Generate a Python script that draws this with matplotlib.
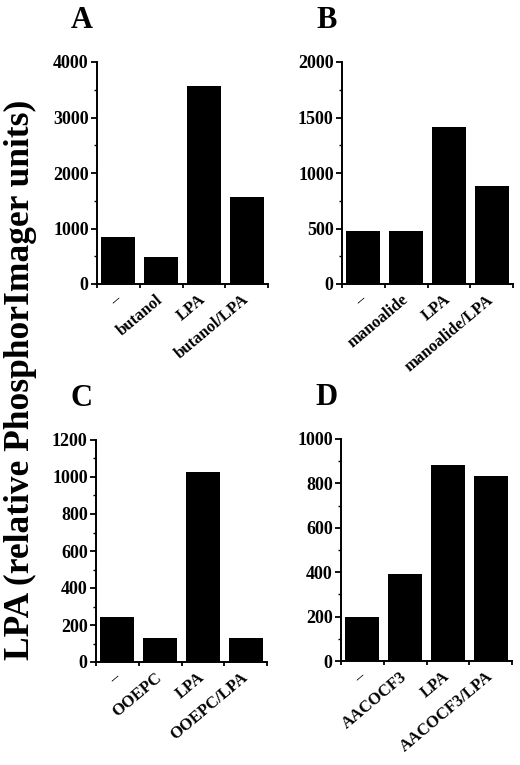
import numpy as np
import matplotlib.pyplot as plt
from matplotlib.ticker import MultipleLocator, FixedLocator

plt.rcParams['font.family'] = ['Liberation Serif', 'DejaVu Serif']
plt.rcParams['font.weight'] = 'bold'

# panel data
labels_a = ['\u2013', 'butanol', 'LPA', 'butanol/LPA']
values_a = [840, 480, 3570, 1560]

labels_b = ['\u2013', 'manoalide', 'LPA', 'manoalide/LPA']
values_b = [475, 475, 1415, 885]

labels_c = ['\u2013', 'OOEPC', 'LPA', 'OOEPC/LPA']
values_c = [245, 130, 1025, 130]

labels_d = ['\u2013', 'AACOCF3', 'LPA', 'AACOCF3/LPA']
values_d = [200, 390, 885, 835]

W, H = 520, 765
fig = plt.figure(figsize=(W / 100, H / 100), dpi=100)


def make_panel(left_px, top_px, letter, labels, values, ymax, major):
    ax = fig.add_axes([left_px / W, (H - top_px - 222) / H, 171 / W, 222 / H])
    x = np.arange(len(values)) + 0.5
    ax.bar(x, values, width=0.8, color='black')
    ax.set_xlim(0, len(values))
    ax.set_ylim(0, ymax)
    ax.yaxis.set_major_locator(MultipleLocator(major))
    ax.yaxis.set_minor_locator(MultipleLocator(major / 2))
    ax.xaxis.set_major_locator(FixedLocator(x))
    ax.xaxis.set_minor_locator(FixedLocator(np.arange(len(values) + 1)))
    ax.set_xticklabels(labels, rotation=40, ha='right', va='center',
                       rotation_mode='anchor', fontsize=12, fontweight='bold')
    ax.tick_params(axis='x', which='major', length=0, pad=10)
    ax.tick_params(axis='x', which='minor', length=3, width=1.3, direction='out')
    ax.tick_params(axis='y', which='major', length=4, width=1.3, labelsize=13, pad=2)
    ax.tick_params(axis='y', which='minor', length=2, width=1)
    for lab in ax.get_yticklabels():
        lab.set_fontweight('bold')
    for s in ['top', 'right']:
        ax.spines[s].set_visible(False)
    for s in ['left', 'bottom']:
        ax.spines[s].set_linewidth(1.4)
    fig.text((left_px - 15) / W, 1 - (top_px - 42) / H, letter,
             fontsize=22, fontweight='bold', ha='center', va='center')
    return ax


make_panel(97, 62, 'A', labels_a, values_a, 4000, 1000)
make_panel(342, 62, 'B', labels_b, values_b, 2000, 500)
make_panel(96, 440, 'C', labels_c, values_c, 1200, 200)
make_panel(341, 439, 'D', labels_d, values_d, 1000, 200)

fig.text(20 / W, 1 - 380 / H, 'LPA (relative PhosphorImager units)',
         rotation=90, fontsize=25.5, fontweight='bold', ha='center', va='center')

fig.savefig('out.png', dpi=100, facecolor='white')
